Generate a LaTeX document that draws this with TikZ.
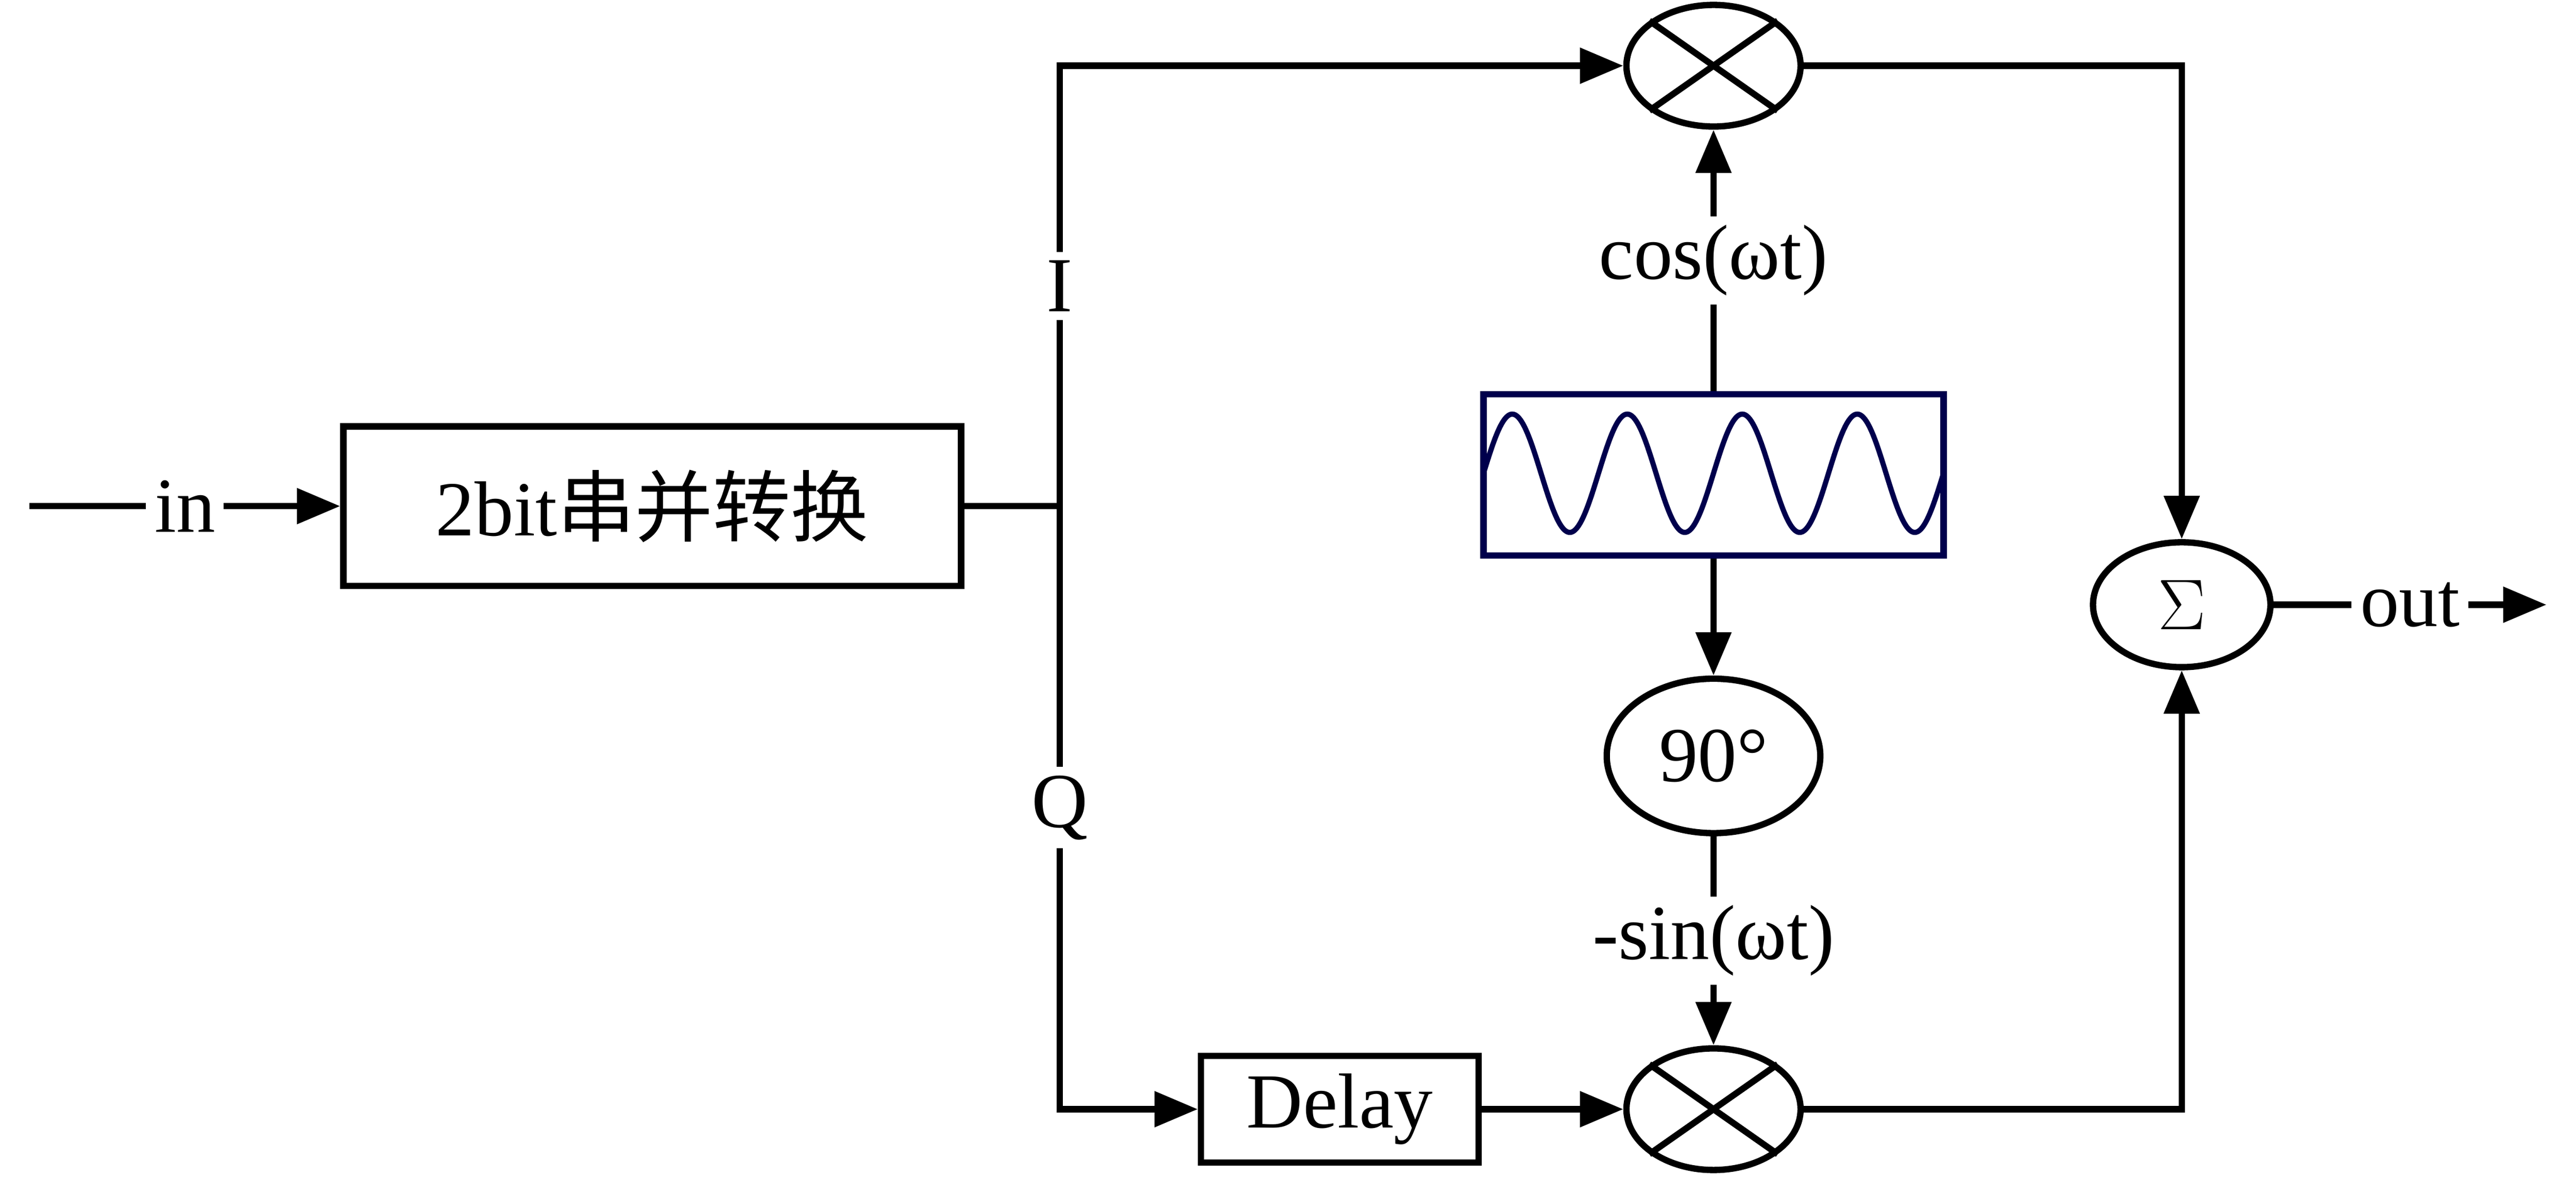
\documentclass[tikz,border=0pt]{standalone}
\usepackage{fontspec}
\setmainfont{Liberation Serif}
\newfontfamily\cjk{Noto Sans CJK SC}
\usetikzlibrary{shapes.geometric,arrows.meta}
\begin{document}
\begin{tikzpicture}[x=0.02cm,y=-0.02cm,line width=2.2pt,
  lbl/.style={fill=white,inner sep=3pt,font=\fontsize{27}{30}\selectfont},
  arr/.style={-{Triangle[length=15pt,width=12pt]}},
  mix/.style={ellipse,draw,minimum width=106*0.02cm,minimum height=74*0.02cm,inner sep=0pt},
  box/.style={draw,rectangle,inner sep=0pt}]
\useasboundingbox (0,0) rectangle (1568,716);
\node[box,minimum width=376*0.02cm,minimum height=97*0.02cm,font=\fontsize{27}{30}\selectfont] (sp) at (397,308) {2bit{\cjk 串并转换}};
\coordinate (inL) at (18,308);
\draw[arr] (inL) -- node[lbl]{in} (sp.west);
\coordinate (j) at (645,308);
\coordinate (jt) at (645,40);
\coordinate (jb) at (645,675);
\draw (sp.east) -- (j);
\node[mix] (m1) at (1043,40) {};
\node[mix] (m2) at (1043,675) {};
\draw (m1.35)--(m1.215) (m1.145)--(m1.325);
\draw (m2.35)--(m2.215) (m2.145)--(m2.325);
\draw[arr] (j) -- node[lbl]{I} (jt) -- (m1.west);
\node[box,minimum width=169*0.02cm,minimum height=65*0.02cm,font=\fontsize{27}{30}\selectfont] (dl) at (815.5,675) {Delay};
\draw[arr] (j) -- node[lbl]{Q} (jb) -- (dl.west);
\draw[arr] (dl.east) -- (m2.west);
\node[box,draw=blue!30!black,minimum width=280*0.02cm,minimum height=98*0.02cm] (osc) at (1043,289) {};
\draw[blue!30!black,line width=1.8pt] plot[domain=0:280,samples=200,smooth] ({903+\x},{288-36*sin(\x*5.142857)});
\draw[arr] (osc.north) -- node[lbl]{cos(ωt)} (m1.south);
\node[ellipse,draw,minimum width=130*0.02cm,minimum height=94*0.02cm,font=\fontsize{27}{30}\selectfont] (ph) at (1043,460) {90°};
\draw[arr] (osc.south) -- (ph.north);
\draw[arr] (ph.south) -- node[lbl]{-sin(ωt)} (m2.north);
\node[ellipse,draw,minimum width=108*0.02cm,minimum height=76*0.02cm,inner sep=0pt,font=\fontsize{36}{38}\selectfont] (sum) at (1328,368) {$\Sigma$};
\coordinate (rt) at (1328,40);
\coordinate (rb) at (1328,675);
\draw[arr] (m1.east) -- (rt) -- (sum.north);
\draw[arr] (m2.east) -- (rb) -- (sum.south);
\coordinate (outR) at (1550,368);
\draw[arr] (sum.east) -- node[lbl,pos=0.5]{out} (outR);
\end{tikzpicture}
\end{document}
